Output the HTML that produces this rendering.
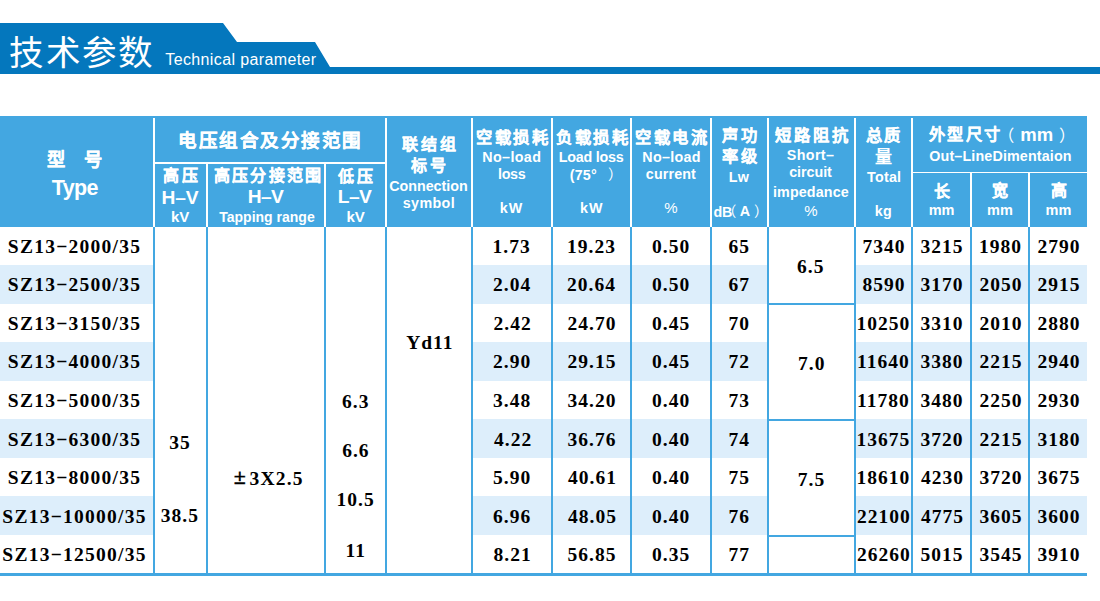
<!DOCTYPE html>
<html lang="zh-CN"><head><meta charset="utf-8"><title>技术参数</title>
<style>
html,body{margin:0;padding:0;background:#fff;width:1100px;height:601px;overflow:hidden;position:relative}
.b{position:absolute}
.t{position:absolute;white-space:nowrap;line-height:1;font-family:"Liberation Sans",sans-serif}
</style></head><body>
<svg class="b" style="left:0;top:0" width="1100" height="80"><polygon points="0,23 223,23 237,42 315,42 330,67 1100,67 1100,74 0,74" fill="#0477bd"/></svg>
<div class="b" style="left:0px;top:116px;width:1087px;height:110.5px;background:#43a7e1;"></div>
<div class="b" style="left:0px;top:265.06px;width:153px;height:38.56px;background:#ddeefb;"></div>
<div class="b" style="left:473px;top:265.06px;width:294px;height:38.56px;background:#ddeefb;"></div>
<div class="b" style="left:854px;top:265.06px;width:233px;height:38.56px;background:#ddeefb;"></div>
<div class="b" style="left:0px;top:342.18px;width:153px;height:38.56px;background:#ddeefb;"></div>
<div class="b" style="left:473px;top:342.18px;width:294px;height:38.56px;background:#ddeefb;"></div>
<div class="b" style="left:854px;top:342.18px;width:233px;height:38.56px;background:#ddeefb;"></div>
<div class="b" style="left:0px;top:419.3px;width:153px;height:38.56px;background:#ddeefb;"></div>
<div class="b" style="left:473px;top:419.3px;width:294px;height:38.56px;background:#ddeefb;"></div>
<div class="b" style="left:854px;top:419.3px;width:233px;height:38.56px;background:#ddeefb;"></div>
<div class="b" style="left:0px;top:496.42px;width:153px;height:38.56px;background:#ddeefb;"></div>
<div class="b" style="left:473px;top:496.42px;width:294px;height:38.56px;background:#ddeefb;"></div>
<div class="b" style="left:854px;top:496.42px;width:233px;height:38.56px;background:#ddeefb;"></div>
<div class="b" style="left:153px;top:226px;width:2px;height:347px;background:#43a7e1;"></div>
<div class="b" style="left:206px;top:226px;width:2px;height:347px;background:#43a7e1;"></div>
<div class="b" style="left:324px;top:226px;width:2px;height:347px;background:#43a7e1;"></div>
<div class="b" style="left:385px;top:226px;width:2px;height:347px;background:#43a7e1;"></div>
<div class="b" style="left:471px;top:226px;width:2px;height:347px;background:#43a7e1;"></div>
<div class="b" style="left:551px;top:226px;width:2px;height:347px;background:#43a7e1;"></div>
<div class="b" style="left:630px;top:226px;width:2px;height:347px;background:#43a7e1;"></div>
<div class="b" style="left:710px;top:226px;width:2px;height:347px;background:#43a7e1;"></div>
<div class="b" style="left:767px;top:226px;width:2px;height:347px;background:#43a7e1;"></div>
<div class="b" style="left:854px;top:226px;width:2px;height:347px;background:#43a7e1;"></div>
<div class="b" style="left:911px;top:226px;width:2px;height:347px;background:#43a7e1;"></div>
<div class="b" style="left:970px;top:226px;width:2px;height:347px;background:#43a7e1;"></div>
<div class="b" style="left:1028px;top:226px;width:2px;height:347px;background:#43a7e1;"></div>
<div class="b" style="left:767px;top:303px;width:89px;height:2px;background:#43a7e1;"></div>
<div class="b" style="left:767px;top:419px;width:89px;height:2px;background:#43a7e1;"></div>
<div class="b" style="left:767px;top:535px;width:89px;height:2px;background:#43a7e1;"></div>
<div class="b" style="left:0px;top:573px;width:1087px;height:3px;background:#43a7e1;"></div>
<div class="b" style="left:385px;top:117.5px;width:1.6px;height:109.0px;background:#fff;"></div>
<div class="b" style="left:471px;top:117.5px;width:1.6px;height:109.0px;background:#fff;"></div>
<div class="b" style="left:551px;top:117.5px;width:1.6px;height:109.0px;background:#fff;"></div>
<div class="b" style="left:630px;top:117.5px;width:1.6px;height:109.0px;background:#fff;"></div>
<div class="b" style="left:710px;top:117.5px;width:1.6px;height:109.0px;background:#fff;"></div>
<div class="b" style="left:767px;top:117.5px;width:1.6px;height:109.0px;background:#fff;"></div>
<div class="b" style="left:854px;top:117.5px;width:1.6px;height:109.0px;background:#fff;"></div>
<div class="b" style="left:911px;top:117.5px;width:1.6px;height:109.0px;background:#fff;"></div>
<div class="b" style="left:153px;top:117.5px;width:1.6px;height:109.0px;background:#fff;"></div>
<div class="b" style="left:153px;top:162px;width:233px;height:1.6px;background:#fff;"></div>
<div class="b" style="left:206px;top:162px;width:1.6px;height:64.5px;background:#fff;"></div>
<div class="b" style="left:324px;top:162px;width:1.6px;height:64.5px;background:#fff;"></div>
<div class="b" style="left:911px;top:171.5px;width:176px;height:1.6px;background:#fff;"></div>
<div class="b" style="left:970px;top:171.5px;width:1.6px;height:55.0px;background:#fff;"></div>
<div class="b" style="left:1028px;top:171.5px;width:1.6px;height:55.0px;background:#fff;"></div>
<div class="t" style="left:9.38px;top:35.60px;font-family:'Liberation Sans', sans-serif;font-size:34.5px;font-weight:normal;color:#fff;letter-spacing:2.25px;">技术参数</div>
<div class="t" style="left:165.28px;top:52.00px;font-family:'Liberation Sans', sans-serif;font-size:16px;font-weight:normal;color:#fff;letter-spacing:0.38px;">Technical parameter</div>
<div class="t" style="left:46.70px;top:151.20px;font-family:'Liberation Sans', sans-serif;font-size:18.3px;font-weight:bold;color:#fff;letter-spacing:0px;-webkit-text-stroke-width:0.2px">型</div>
<div class="t" style="left:83.50px;top:150.70px;font-family:'Liberation Sans', sans-serif;font-size:18.3px;font-weight:bold;color:#fff;letter-spacing:0px;-webkit-text-stroke-width:0.2px">号</div>
<div class="t" style="left:51.80px;top:177.60px;font-family:'Liberation Sans', sans-serif;font-size:21.5px;font-weight:bold;color:#fff;letter-spacing:-0.6px;">Type</div>
<div class="t" style="left:178.00px;top:131.50px;font-family:'Liberation Sans', sans-serif;font-size:18.5px;font-weight:bold;color:#fff;letter-spacing:1.5px;-webkit-text-stroke-width:0.2px">电压组合及分接范围</div>
<div class="t" style="left:163.10px;top:167.95px;font-family:'Liberation Sans', sans-serif;font-size:16px;font-weight:bold;color:#fff;letter-spacing:2.8px;-webkit-text-stroke-width:0.2px">高压</div>
<div class="t" style="left:161.50px;top:187.50px;font-family:'Liberation Sans', sans-serif;font-size:19.2px;font-weight:bold;color:#fff;letter-spacing:-0.1px;">H–V</div>
<div class="t" style="left:171.00px;top:209.30px;font-family:'Liberation Sans', sans-serif;font-size:15px;font-weight:bold;color:#fff;letter-spacing:0px;">kV</div>
<div class="t" style="left:213.80px;top:168.30px;font-family:'Liberation Sans', sans-serif;font-size:16px;font-weight:bold;color:#fff;letter-spacing:2.24px;-webkit-text-stroke-width:0.2px">高压分接范围</div>
<div class="t" style="left:247.80px;top:187.00px;font-family:'Liberation Sans', sans-serif;font-size:19.2px;font-weight:bold;color:#fff;letter-spacing:-0.6px;">H–V</div>
<div class="t" style="left:219.20px;top:210.40px;font-family:'Liberation Sans', sans-serif;font-size:14px;font-weight:bold;color:#fff;letter-spacing:0.01px;">Tapping range</div>
<div class="t" style="left:338.00px;top:168.80px;font-family:'Liberation Sans', sans-serif;font-size:16px;font-weight:bold;color:#fff;letter-spacing:3.0px;-webkit-text-stroke-width:0.2px">低压</div>
<div class="t" style="left:337.80px;top:187.00px;font-family:'Liberation Sans', sans-serif;font-size:19.2px;font-weight:bold;color:#fff;letter-spacing:-0.6px;">L–V</div>
<div class="t" style="left:346.50px;top:209.40px;font-family:'Liberation Sans', sans-serif;font-size:15px;font-weight:bold;color:#fff;letter-spacing:0px;">kV</div>
<div class="t" style="left:402.00px;top:136.50px;font-family:'Liberation Sans', sans-serif;font-size:16px;font-weight:bold;color:#fff;letter-spacing:3.0px;-webkit-text-stroke-width:0.2px">联结组</div>
<div class="t" style="left:411.00px;top:158.00px;font-family:'Liberation Sans', sans-serif;font-size:16px;font-weight:bold;color:#fff;letter-spacing:3.0px;-webkit-text-stroke-width:0.2px">标号</div>
<div class="t" style="left:389.20px;top:179.40px;font-family:'Liberation Sans', sans-serif;font-size:14.3px;font-weight:bold;color:#fff;letter-spacing:-0.01px;">Connection</div>
<div class="t" style="left:402.80px;top:196.40px;font-family:'Liberation Sans', sans-serif;font-size:14.3px;font-weight:bold;color:#fff;letter-spacing:0.36px;">symbol</div>
<div class="t" style="left:476.00px;top:128.50px;font-family:'Liberation Sans', sans-serif;font-size:16.3px;font-weight:bold;color:#fff;letter-spacing:2.67px;-webkit-text-stroke-width:0.2px">空载损耗</div>
<div class="t" style="left:482.30px;top:150.40px;font-family:'Liberation Sans', sans-serif;font-size:14.3px;font-weight:bold;color:#fff;letter-spacing:0.37px;">No–load</div>
<div class="t" style="left:498.00px;top:167.40px;font-family:'Liberation Sans', sans-serif;font-size:14.3px;font-weight:bold;color:#fff;letter-spacing:-0.33px;">loss</div>
<div class="t" style="left:499.70px;top:201.40px;font-family:'Liberation Sans', sans-serif;font-size:14.3px;font-weight:bold;color:#fff;letter-spacing:1.2px;">kW</div>
<div class="t" style="left:556.00px;top:128.50px;font-family:'Liberation Sans', sans-serif;font-size:16.3px;font-weight:bold;color:#fff;letter-spacing:2.67px;-webkit-text-stroke-width:0.2px">负载损耗</div>
<div class="t" style="left:558.80px;top:150.40px;font-family:'Liberation Sans', sans-serif;font-size:14.3px;font-weight:bold;color:#fff;letter-spacing:-0.23px;">Load loss</div>
<div class="t" style="left:569.75px;top:167.90px;font-family:'Liberation Sans', sans-serif;font-size:14.3px;font-weight:bold;color:#fff;letter-spacing:0.17px;">(75°</div>
<div class="t" style="left:608.25px;top:168.35px;font-family:'Liberation Sans', sans-serif;font-size:14.3px;font-weight:normal;color:#fff;letter-spacing:0px;">）</div>
<div class="t" style="left:580.00px;top:201.40px;font-family:'Liberation Sans', sans-serif;font-size:14.3px;font-weight:bold;color:#fff;letter-spacing:1.0px;">kW</div>
<div class="t" style="left:635.00px;top:128.50px;font-family:'Liberation Sans', sans-serif;font-size:16.3px;font-weight:bold;color:#fff;letter-spacing:2.67px;-webkit-text-stroke-width:0.2px">空载电流</div>
<div class="t" style="left:642.30px;top:150.40px;font-family:'Liberation Sans', sans-serif;font-size:14.3px;font-weight:bold;color:#fff;letter-spacing:0.3px;">No–load</div>
<div class="t" style="left:645.80px;top:167.40px;font-family:'Liberation Sans', sans-serif;font-size:14.3px;font-weight:bold;color:#fff;letter-spacing:0.13px;">current</div>
<div class="t" style="left:664.15px;top:200.20px;font-family:'Liberation Sans', sans-serif;font-size:15px;font-weight:normal;color:#fff;letter-spacing:0px;">%</div>
<div class="t" style="left:722.00px;top:126.50px;font-family:'Liberation Sans', sans-serif;font-size:16.3px;font-weight:bold;color:#fff;letter-spacing:3.0px;-webkit-text-stroke-width:0.2px">声功</div>
<div class="t" style="left:722.00px;top:148.00px;font-family:'Liberation Sans', sans-serif;font-size:16.3px;font-weight:bold;color:#fff;letter-spacing:3.0px;-webkit-text-stroke-width:0.2px">率级</div>
<div class="t" style="left:728.80px;top:170.40px;font-family:'Liberation Sans', sans-serif;font-size:14.3px;font-weight:bold;color:#fff;letter-spacing:0.2px;">Lw</div>
<div class="t" style="left:713.60px;top:205.40px;font-family:'Liberation Sans', sans-serif;font-size:14.3px;font-weight:bold;color:#fff;letter-spacing:-0.4px;">dB</div>
<div class="t" style="left:722.35px;top:204.55px;font-family:'Liberation Sans', sans-serif;font-size:14.3px;font-weight:normal;color:#fff;letter-spacing:0px;">（</div>
<div class="t" style="left:739.80px;top:204.40px;font-family:'Liberation Sans', sans-serif;font-size:14.3px;font-weight:bold;color:#fff;letter-spacing:0px;">A</div>
<div class="t" style="left:754.25px;top:204.55px;font-family:'Liberation Sans', sans-serif;font-size:14.3px;font-weight:normal;color:#fff;letter-spacing:0px;">）</div>
<div class="t" style="left:775.00px;top:126.50px;font-family:'Liberation Sans', sans-serif;font-size:16.3px;font-weight:bold;color:#fff;letter-spacing:3.0px;-webkit-text-stroke-width:0.2px">短路阻抗</div>
<div class="t" style="left:786.80px;top:148.40px;font-family:'Liberation Sans', sans-serif;font-size:14.3px;font-weight:bold;color:#fff;letter-spacing:0.36px;">Short–</div>
<div class="t" style="left:789.20px;top:165.40px;font-family:'Liberation Sans', sans-serif;font-size:14.3px;font-weight:bold;color:#fff;letter-spacing:-0.04px;">circuit</div>
<div class="t" style="left:773.00px;top:185.40px;font-family:'Liberation Sans', sans-serif;font-size:14.3px;font-weight:bold;color:#fff;letter-spacing:0.12px;">impedance</div>
<div class="t" style="left:804.15px;top:202.65px;font-family:'Liberation Sans', sans-serif;font-size:15px;font-weight:normal;color:#fff;letter-spacing:0px;">%</div>
<div class="t" style="left:866.00px;top:126.50px;font-family:'Liberation Sans', sans-serif;font-size:16.3px;font-weight:bold;color:#fff;letter-spacing:2.0px;-webkit-text-stroke-width:0.2px">总质</div>
<div class="t" style="left:874.50px;top:149.00px;font-family:'Liberation Sans', sans-serif;font-size:17px;font-weight:bold;color:#fff;letter-spacing:0px;">量</div>
<div class="t" style="left:867.00px;top:170.40px;font-family:'Liberation Sans', sans-serif;font-size:14.3px;font-weight:bold;color:#fff;letter-spacing:0.25px;">Total</div>
<div class="t" style="left:874.80px;top:204.40px;font-family:'Liberation Sans', sans-serif;font-size:14.3px;font-weight:bold;color:#fff;letter-spacing:0.2px;">kg</div>
<div class="t" style="left:929.00px;top:126.00px;font-family:'Liberation Sans', sans-serif;font-size:16.3px;font-weight:bold;color:#fff;letter-spacing:2.33px;-webkit-text-stroke-width:0.2px">外型尺寸</div>
<div class="t" style="left:997.50px;top:126.50px;font-family:'Liberation Sans', sans-serif;font-size:16.3px;font-weight:normal;color:#fff;letter-spacing:0px;">（</div>
<div class="t" style="left:1020.20px;top:126.00px;font-family:'Liberation Sans', sans-serif;font-size:18.5px;font-weight:bold;color:#fff;letter-spacing:0px;">mm</div>
<div class="t" style="left:1059.15px;top:126.50px;font-family:'Liberation Sans', sans-serif;font-size:16.3px;font-weight:normal;color:#fff;letter-spacing:0px;">）</div>
<div class="t" style="left:929.25px;top:148.70px;font-family:'Liberation Sans', sans-serif;font-size:14.3px;font-weight:bold;color:#fff;letter-spacing:0.15px;">Out–LineDimentaion</div>
<div class="t" style="left:933.80px;top:183.50px;font-family:'Liberation Sans', sans-serif;font-size:16px;font-weight:bold;color:#fff;letter-spacing:0px;-webkit-text-stroke-width:0.2px">长</div>
<div class="t" style="left:928.70px;top:203.40px;font-family:'Liberation Sans', sans-serif;font-size:14.5px;font-weight:bold;color:#fff;letter-spacing:0px;">mm</div>
<div class="t" style="left:992.20px;top:183.00px;font-family:'Liberation Sans', sans-serif;font-size:16px;font-weight:bold;color:#fff;letter-spacing:0px;-webkit-text-stroke-width:0.2px">宽</div>
<div class="t" style="left:987.00px;top:203.40px;font-family:'Liberation Sans', sans-serif;font-size:14.5px;font-weight:bold;color:#fff;letter-spacing:0px;">mm</div>
<div class="t" style="left:1051.00px;top:183.00px;font-family:'Liberation Sans', sans-serif;font-size:16px;font-weight:bold;color:#fff;letter-spacing:0px;-webkit-text-stroke-width:0.2px">高</div>
<div class="t" style="left:1045.60px;top:203.40px;font-family:'Liberation Sans', sans-serif;font-size:14.5px;font-weight:bold;color:#fff;letter-spacing:0px;">mm</div>
<div class="t" style="left:7.80px;top:236.78px;font-family:'Liberation Serif', serif;font-size:19.5px;font-weight:bold;color:#000;letter-spacing:1.25px;">SZ13−2000/35</div>
<div class="t" style="left:492.50px;top:236.78px;font-family:'Liberation Serif', serif;font-size:19.5px;font-weight:bold;color:#000;letter-spacing:1.0px;">1.73</div>
<div class="t" style="left:567.00px;top:236.78px;font-family:'Liberation Serif', serif;font-size:19.5px;font-weight:bold;color:#000;letter-spacing:1.0px;">19.23</div>
<div class="t" style="left:652.00px;top:236.78px;font-family:'Liberation Serif', serif;font-size:19.5px;font-weight:bold;color:#000;letter-spacing:1.0px;">0.50</div>
<div class="t" style="left:728.50px;top:236.78px;font-family:'Liberation Serif', serif;font-size:19.5px;font-weight:bold;color:#000;letter-spacing:1.0px;">65</div>
<div class="t" style="left:862.50px;top:236.78px;font-family:'Liberation Serif', serif;font-size:19.5px;font-weight:bold;color:#000;letter-spacing:1.0px;">7340</div>
<div class="t" style="left:920.50px;top:236.78px;font-family:'Liberation Serif', serif;font-size:19.5px;font-weight:bold;color:#000;letter-spacing:1.0px;">3215</div>
<div class="t" style="left:978.90px;top:236.78px;font-family:'Liberation Serif', serif;font-size:19.5px;font-weight:bold;color:#000;letter-spacing:1.0px;">1980</div>
<div class="t" style="left:1037.50px;top:236.78px;font-family:'Liberation Serif', serif;font-size:19.5px;font-weight:bold;color:#000;letter-spacing:1.0px;">2790</div>
<div class="t" style="left:7.80px;top:275.34px;font-family:'Liberation Serif', serif;font-size:19.5px;font-weight:bold;color:#000;letter-spacing:1.25px;">SZ13−2500/35</div>
<div class="t" style="left:493.00px;top:275.34px;font-family:'Liberation Serif', serif;font-size:19.5px;font-weight:bold;color:#000;letter-spacing:1.0px;">2.04</div>
<div class="t" style="left:567.00px;top:275.34px;font-family:'Liberation Serif', serif;font-size:19.5px;font-weight:bold;color:#000;letter-spacing:1.0px;">20.64</div>
<div class="t" style="left:652.00px;top:275.34px;font-family:'Liberation Serif', serif;font-size:19.5px;font-weight:bold;color:#000;letter-spacing:1.0px;">0.50</div>
<div class="t" style="left:728.50px;top:275.34px;font-family:'Liberation Serif', serif;font-size:19.5px;font-weight:bold;color:#000;letter-spacing:1.0px;">67</div>
<div class="t" style="left:862.50px;top:275.34px;font-family:'Liberation Serif', serif;font-size:19.5px;font-weight:bold;color:#000;letter-spacing:1.0px;">8590</div>
<div class="t" style="left:920.50px;top:275.34px;font-family:'Liberation Serif', serif;font-size:19.5px;font-weight:bold;color:#000;letter-spacing:1.0px;">3170</div>
<div class="t" style="left:979.40px;top:275.34px;font-family:'Liberation Serif', serif;font-size:19.5px;font-weight:bold;color:#000;letter-spacing:1.0px;">2050</div>
<div class="t" style="left:1037.50px;top:275.34px;font-family:'Liberation Serif', serif;font-size:19.5px;font-weight:bold;color:#000;letter-spacing:1.0px;">2915</div>
<div class="t" style="left:7.80px;top:313.90px;font-family:'Liberation Serif', serif;font-size:19.5px;font-weight:bold;color:#000;letter-spacing:1.25px;">SZ13−3150/35</div>
<div class="t" style="left:493.50px;top:313.90px;font-family:'Liberation Serif', serif;font-size:19.5px;font-weight:bold;color:#000;letter-spacing:1.0px;">2.42</div>
<div class="t" style="left:567.50px;top:313.90px;font-family:'Liberation Serif', serif;font-size:19.5px;font-weight:bold;color:#000;letter-spacing:1.0px;">24.70</div>
<div class="t" style="left:652.00px;top:313.90px;font-family:'Liberation Serif', serif;font-size:19.5px;font-weight:bold;color:#000;letter-spacing:1.0px;">0.45</div>
<div class="t" style="left:728.50px;top:313.90px;font-family:'Liberation Serif', serif;font-size:19.5px;font-weight:bold;color:#000;letter-spacing:1.0px;">70</div>
<div class="t" style="left:856.50px;top:313.90px;font-family:'Liberation Serif', serif;font-size:19.5px;font-weight:bold;color:#000;letter-spacing:1.0px;">10250</div>
<div class="t" style="left:920.50px;top:313.90px;font-family:'Liberation Serif', serif;font-size:19.5px;font-weight:bold;color:#000;letter-spacing:1.0px;">3310</div>
<div class="t" style="left:979.40px;top:313.90px;font-family:'Liberation Serif', serif;font-size:19.5px;font-weight:bold;color:#000;letter-spacing:1.0px;">2010</div>
<div class="t" style="left:1037.50px;top:313.90px;font-family:'Liberation Serif', serif;font-size:19.5px;font-weight:bold;color:#000;letter-spacing:1.0px;">2880</div>
<div class="t" style="left:7.80px;top:352.46px;font-family:'Liberation Serif', serif;font-size:19.5px;font-weight:bold;color:#000;letter-spacing:1.25px;">SZ13−4000/35</div>
<div class="t" style="left:493.00px;top:352.46px;font-family:'Liberation Serif', serif;font-size:19.5px;font-weight:bold;color:#000;letter-spacing:1.0px;">2.90</div>
<div class="t" style="left:567.50px;top:352.46px;font-family:'Liberation Serif', serif;font-size:19.5px;font-weight:bold;color:#000;letter-spacing:1.0px;">29.15</div>
<div class="t" style="left:652.00px;top:352.46px;font-family:'Liberation Serif', serif;font-size:19.5px;font-weight:bold;color:#000;letter-spacing:1.0px;">0.45</div>
<div class="t" style="left:728.50px;top:352.46px;font-family:'Liberation Serif', serif;font-size:19.5px;font-weight:bold;color:#000;letter-spacing:1.0px;">72</div>
<div class="t" style="left:857.00px;top:352.46px;font-family:'Liberation Serif', serif;font-size:19.5px;font-weight:bold;color:#000;letter-spacing:1.0px;">11640</div>
<div class="t" style="left:920.50px;top:352.46px;font-family:'Liberation Serif', serif;font-size:19.5px;font-weight:bold;color:#000;letter-spacing:1.0px;">3380</div>
<div class="t" style="left:979.40px;top:352.46px;font-family:'Liberation Serif', serif;font-size:19.5px;font-weight:bold;color:#000;letter-spacing:1.0px;">2215</div>
<div class="t" style="left:1037.50px;top:352.46px;font-family:'Liberation Serif', serif;font-size:19.5px;font-weight:bold;color:#000;letter-spacing:1.0px;">2940</div>
<div class="t" style="left:7.80px;top:391.02px;font-family:'Liberation Serif', serif;font-size:19.5px;font-weight:bold;color:#000;letter-spacing:1.25px;">SZ13−5000/35</div>
<div class="t" style="left:493.00px;top:391.02px;font-family:'Liberation Serif', serif;font-size:19.5px;font-weight:bold;color:#000;letter-spacing:1.0px;">3.48</div>
<div class="t" style="left:567.50px;top:391.02px;font-family:'Liberation Serif', serif;font-size:19.5px;font-weight:bold;color:#000;letter-spacing:1.0px;">34.20</div>
<div class="t" style="left:652.00px;top:391.02px;font-family:'Liberation Serif', serif;font-size:19.5px;font-weight:bold;color:#000;letter-spacing:1.0px;">0.40</div>
<div class="t" style="left:728.50px;top:391.02px;font-family:'Liberation Serif', serif;font-size:19.5px;font-weight:bold;color:#000;letter-spacing:1.0px;">73</div>
<div class="t" style="left:857.00px;top:391.02px;font-family:'Liberation Serif', serif;font-size:19.5px;font-weight:bold;color:#000;letter-spacing:1.0px;">11780</div>
<div class="t" style="left:920.50px;top:391.02px;font-family:'Liberation Serif', serif;font-size:19.5px;font-weight:bold;color:#000;letter-spacing:1.0px;">3480</div>
<div class="t" style="left:979.40px;top:391.02px;font-family:'Liberation Serif', serif;font-size:19.5px;font-weight:bold;color:#000;letter-spacing:1.0px;">2250</div>
<div class="t" style="left:1037.50px;top:391.02px;font-family:'Liberation Serif', serif;font-size:19.5px;font-weight:bold;color:#000;letter-spacing:1.0px;">2930</div>
<div class="t" style="left:7.80px;top:429.58px;font-family:'Liberation Serif', serif;font-size:19.5px;font-weight:bold;color:#000;letter-spacing:1.25px;">SZ13−6300/35</div>
<div class="t" style="left:494.00px;top:429.58px;font-family:'Liberation Serif', serif;font-size:19.5px;font-weight:bold;color:#000;letter-spacing:1.0px;">4.22</div>
<div class="t" style="left:567.50px;top:429.58px;font-family:'Liberation Serif', serif;font-size:19.5px;font-weight:bold;color:#000;letter-spacing:1.0px;">36.76</div>
<div class="t" style="left:652.00px;top:429.58px;font-family:'Liberation Serif', serif;font-size:19.5px;font-weight:bold;color:#000;letter-spacing:1.0px;">0.40</div>
<div class="t" style="left:728.50px;top:429.58px;font-family:'Liberation Serif', serif;font-size:19.5px;font-weight:bold;color:#000;letter-spacing:1.0px;">74</div>
<div class="t" style="left:856.50px;top:429.58px;font-family:'Liberation Serif', serif;font-size:19.5px;font-weight:bold;color:#000;letter-spacing:1.0px;">13675</div>
<div class="t" style="left:920.50px;top:429.58px;font-family:'Liberation Serif', serif;font-size:19.5px;font-weight:bold;color:#000;letter-spacing:1.0px;">3720</div>
<div class="t" style="left:979.40px;top:429.58px;font-family:'Liberation Serif', serif;font-size:19.5px;font-weight:bold;color:#000;letter-spacing:1.0px;">2215</div>
<div class="t" style="left:1037.50px;top:429.58px;font-family:'Liberation Serif', serif;font-size:19.5px;font-weight:bold;color:#000;letter-spacing:1.0px;">3180</div>
<div class="t" style="left:7.80px;top:468.14px;font-family:'Liberation Serif', serif;font-size:19.5px;font-weight:bold;color:#000;letter-spacing:1.25px;">SZ13−8000/35</div>
<div class="t" style="left:493.00px;top:468.14px;font-family:'Liberation Serif', serif;font-size:19.5px;font-weight:bold;color:#000;letter-spacing:1.0px;">5.90</div>
<div class="t" style="left:568.00px;top:468.14px;font-family:'Liberation Serif', serif;font-size:19.5px;font-weight:bold;color:#000;letter-spacing:1.0px;">40.61</div>
<div class="t" style="left:652.00px;top:468.14px;font-family:'Liberation Serif', serif;font-size:19.5px;font-weight:bold;color:#000;letter-spacing:1.0px;">0.40</div>
<div class="t" style="left:728.50px;top:468.14px;font-family:'Liberation Serif', serif;font-size:19.5px;font-weight:bold;color:#000;letter-spacing:1.0px;">75</div>
<div class="t" style="left:856.50px;top:468.14px;font-family:'Liberation Serif', serif;font-size:19.5px;font-weight:bold;color:#000;letter-spacing:1.0px;">18610</div>
<div class="t" style="left:921.00px;top:468.14px;font-family:'Liberation Serif', serif;font-size:19.5px;font-weight:bold;color:#000;letter-spacing:1.0px;">4230</div>
<div class="t" style="left:979.40px;top:468.14px;font-family:'Liberation Serif', serif;font-size:19.5px;font-weight:bold;color:#000;letter-spacing:1.0px;">3720</div>
<div class="t" style="left:1037.50px;top:468.14px;font-family:'Liberation Serif', serif;font-size:19.5px;font-weight:bold;color:#000;letter-spacing:1.0px;">3675</div>
<div class="t" style="left:2.30px;top:506.70px;font-family:'Liberation Serif', serif;font-size:19.5px;font-weight:bold;color:#000;letter-spacing:1.25px;">SZ13−10000/35</div>
<div class="t" style="left:493.00px;top:506.70px;font-family:'Liberation Serif', serif;font-size:19.5px;font-weight:bold;color:#000;letter-spacing:1.0px;">6.96</div>
<div class="t" style="left:568.00px;top:506.70px;font-family:'Liberation Serif', serif;font-size:19.5px;font-weight:bold;color:#000;letter-spacing:1.0px;">48.05</div>
<div class="t" style="left:652.00px;top:506.70px;font-family:'Liberation Serif', serif;font-size:19.5px;font-weight:bold;color:#000;letter-spacing:1.0px;">0.40</div>
<div class="t" style="left:728.50px;top:506.70px;font-family:'Liberation Serif', serif;font-size:19.5px;font-weight:bold;color:#000;letter-spacing:1.0px;">76</div>
<div class="t" style="left:857.00px;top:506.70px;font-family:'Liberation Serif', serif;font-size:19.5px;font-weight:bold;color:#000;letter-spacing:1.0px;">22100</div>
<div class="t" style="left:921.00px;top:506.70px;font-family:'Liberation Serif', serif;font-size:19.5px;font-weight:bold;color:#000;letter-spacing:1.0px;">4775</div>
<div class="t" style="left:979.40px;top:506.70px;font-family:'Liberation Serif', serif;font-size:19.5px;font-weight:bold;color:#000;letter-spacing:1.0px;">3605</div>
<div class="t" style="left:1037.50px;top:506.70px;font-family:'Liberation Serif', serif;font-size:19.5px;font-weight:bold;color:#000;letter-spacing:1.0px;">3600</div>
<div class="t" style="left:2.30px;top:545.26px;font-family:'Liberation Serif', serif;font-size:19.5px;font-weight:bold;color:#000;letter-spacing:1.25px;">SZ13−12500/35</div>
<div class="t" style="left:493.50px;top:545.26px;font-family:'Liberation Serif', serif;font-size:19.5px;font-weight:bold;color:#000;letter-spacing:1.0px;">8.21</div>
<div class="t" style="left:567.50px;top:545.26px;font-family:'Liberation Serif', serif;font-size:19.5px;font-weight:bold;color:#000;letter-spacing:1.0px;">56.85</div>
<div class="t" style="left:652.00px;top:545.26px;font-family:'Liberation Serif', serif;font-size:19.5px;font-weight:bold;color:#000;letter-spacing:1.0px;">0.35</div>
<div class="t" style="left:728.50px;top:545.26px;font-family:'Liberation Serif', serif;font-size:19.5px;font-weight:bold;color:#000;letter-spacing:1.0px;">77</div>
<div class="t" style="left:857.00px;top:545.26px;font-family:'Liberation Serif', serif;font-size:19.5px;font-weight:bold;color:#000;letter-spacing:1.0px;">26260</div>
<div class="t" style="left:920.50px;top:545.26px;font-family:'Liberation Serif', serif;font-size:19.5px;font-weight:bold;color:#000;letter-spacing:1.0px;">5015</div>
<div class="t" style="left:979.40px;top:545.26px;font-family:'Liberation Serif', serif;font-size:19.5px;font-weight:bold;color:#000;letter-spacing:1.0px;">3545</div>
<div class="t" style="left:1037.50px;top:545.26px;font-family:'Liberation Serif', serif;font-size:19.5px;font-weight:bold;color:#000;letter-spacing:1.0px;">3910</div>
<div class="t" style="left:169.20px;top:432.60px;font-family:'Liberation Serif', serif;font-size:19.5px;font-weight:bold;color:#000;letter-spacing:1.0px;">35</div>
<div class="t" style="left:160.75px;top:506.00px;font-family:'Liberation Serif', serif;font-size:19.5px;font-weight:bold;color:#000;letter-spacing:1.0px;">38.5</div>
<div class="t" style="left:234.00px;top:466.00px;font-family:'Liberation Sans', sans-serif;font-size:21px;font-weight:normal;color:#000;letter-spacing:0px;-webkit-text-stroke-width:0.35px">±</div>
<div class="t" style="left:249.40px;top:469.40px;font-family:'Liberation Serif', serif;font-size:19.5px;font-weight:bold;color:#000;letter-spacing:1.25px;">3X2.5</div>
<div class="t" style="left:342.00px;top:392.00px;font-family:'Liberation Serif', serif;font-size:19.5px;font-weight:bold;color:#000;letter-spacing:1.0px;">6.3</div>
<div class="t" style="left:342.20px;top:441.00px;font-family:'Liberation Serif', serif;font-size:19.5px;font-weight:bold;color:#000;letter-spacing:1.0px;">6.6</div>
<div class="t" style="left:336.50px;top:490.00px;font-family:'Liberation Serif', serif;font-size:19.5px;font-weight:bold;color:#000;letter-spacing:1.0px;">10.5</div>
<div class="t" style="left:345.50px;top:540.60px;font-family:'Liberation Serif', serif;font-size:19.5px;font-weight:bold;color:#000;letter-spacing:1.0px;">11</div>
<div class="t" style="left:406.15px;top:333.00px;font-family:'Liberation Serif', serif;font-size:19.5px;font-weight:bold;color:#000;letter-spacing:1.0px;">Yd11</div>
<div class="t" style="left:797.00px;top:257.00px;font-family:'Liberation Serif', serif;font-size:19.5px;font-weight:bold;color:#000;letter-spacing:1.0px;">6.5</div>
<div class="t" style="left:798.00px;top:354.00px;font-family:'Liberation Serif', serif;font-size:19.5px;font-weight:bold;color:#000;letter-spacing:1.0px;">7.0</div>
<div class="t" style="left:797.80px;top:470.00px;font-family:'Liberation Serif', serif;font-size:19.5px;font-weight:bold;color:#000;letter-spacing:1.0px;">7.5</div>
</body></html>
